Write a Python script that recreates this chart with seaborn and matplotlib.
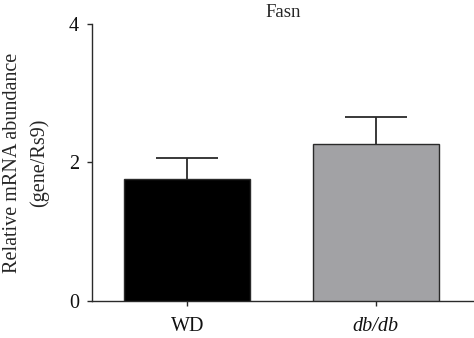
import matplotlib
matplotlib.use("Agg")
import matplotlib.pyplot as plt
import seaborn as sns
import pandas as pd

groups = ["WD", "db/db"]
means = [1.76, 2.27]
sems = [0.30, 0.39]
bar_colors = ["#000000", "#a2a1a6"]

sns.set_theme(style="ticks")
plt.rcParams["font.family"] = ["Liberation Serif", "DejaVu Serif"]

df = pd.DataFrame({"group": groups, "value": means})

fig = plt.figure(figsize=(4.74, 3.38), dpi=100)
ax = fig.add_axes([0.194, 0.1095, 0.806, 0.8195])

sns.barplot(data=df, x="group", y="value", hue="group", palette=bar_colors,
            legend=False, errorbar=None, width=0.67, edgecolor="#2a2a2a",
            linewidth=1.0, ax=ax, zorder=3)

# upper halves of the error bars show above the bars; lower halves sit behind them
ax.errorbar(range(len(groups)), means, yerr=sems, fmt="none", ecolor="#2a2a2a",
            elinewidth=1.3, capsize=22.5, capthick=1.3, zorder=1)

ax.set_xlim(-0.505, 1.52)
ax.set_ylim(0, 4)
ax.set_yticks([0, 2, 4])
ax.set_yticklabels(["0", "2", "4"], fontsize=14.5)
ax.set_xticks([0, 1])
ax.set_xticklabels(groups, fontsize=14.5)
ax.get_xticklabels()[1].set_fontstyle("italic")
ax.set_xlabel("")
ax.set_ylabel("Relative mRNA abundance\n(gene/Rs9)", fontsize=14.5, labelpad=14,
              linespacing=1.5)
ax.set_title("Fasn", fontsize=13.5, pad=5)

sns.despine(ax=ax)
for s in ("left", "bottom"):
    ax.spines[s].set_linewidth(1.0)
    ax.spines[s].set_color("#2a2a2a")
ax.tick_params(axis="y", colors="#2a2a2a", width=1.0, length=3.5, pad=6,
               labelcolor="#111111")
ax.tick_params(axis="x", colors="#2a2a2a", width=1.0, length=3.5, pad=8,
               labelcolor="#111111")

fig.savefig("out.png", dpi=100)
